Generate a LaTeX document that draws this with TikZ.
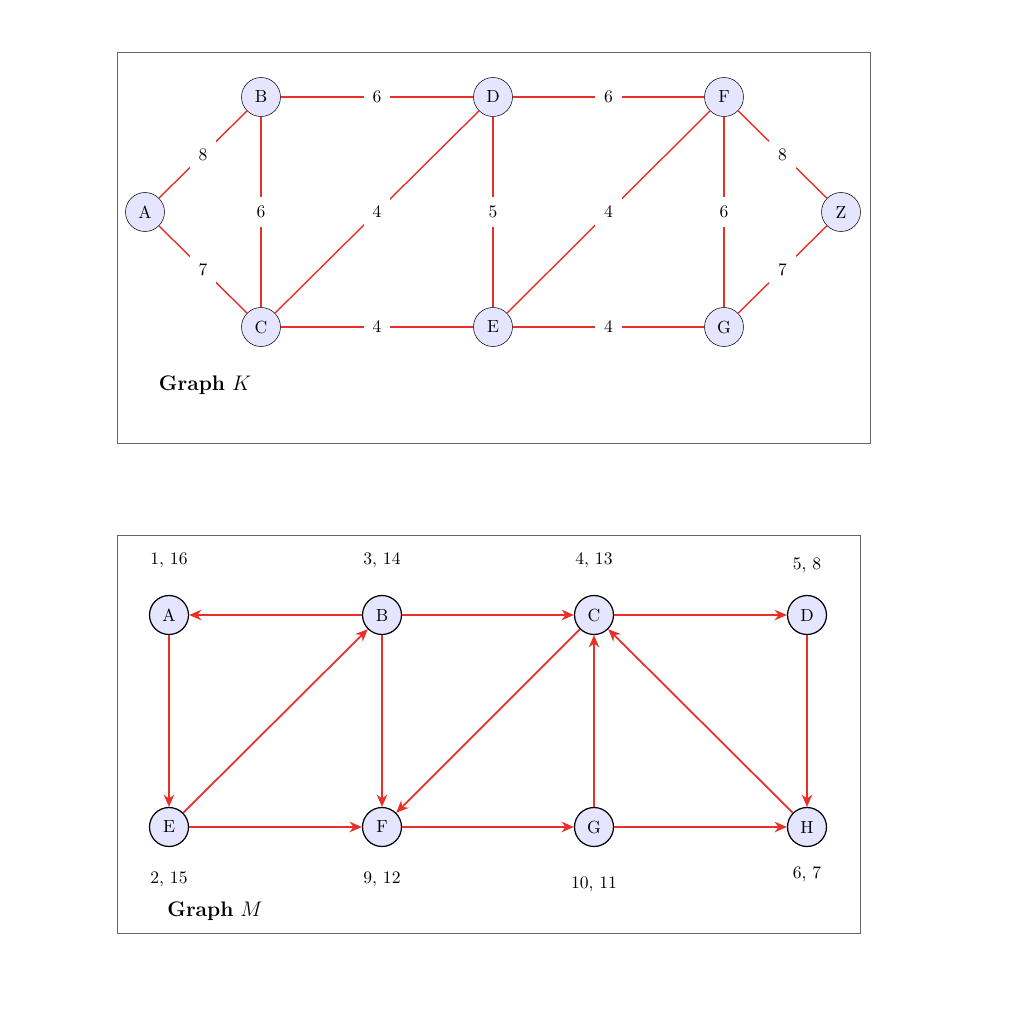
\documentclass[tikz,border=0pt]{standalone}
\usetikzlibrary{arrows.meta}
\definecolor{er}{RGB}{232,48,40}
\begin{document}
\begin{tikzpicture}[x=0.02cm,y=-0.02cm,
  vtx/.style={circle,draw,fill=blue!10,minimum size=0.78cm,inner sep=0pt},
  vtxk/.style={vtx,line width=0.3pt},
  vtxm/.style={vtx,line width=0.7pt},
  ek/.style={draw=er,line width=0.8pt},
  wl/.style={fill=white,inner sep=5pt},
  em/.style={draw=er,line width=1pt,-{Stealth[length=7pt,width=6pt]}},
  frame/.style={draw=black!60,line width=0.4pt}]
\useasboundingbox (0,0) rectangle (1008,1024);
\draw[frame] (117,52) rectangle (870,443);
\node[vtxk] (A) at (145,212) {A};
\node[vtxk] (B) at (261,97) {B};
\node[vtxk] (C) at (261,327) {C};
\node[vtxk] (D) at (493,97) {D};
\node[vtxk] (E) at (493,327) {E};
\node[vtxk] (F) at (724,97) {F};
\node[vtxk] (G) at (724,327) {G};
\node[vtxk] (Z) at (841,212) {Z};
\foreach \a/\b/\w in {A/B/8,A/C/7,B/D/6,B/C/6,C/D/4,C/E/4,D/E/5,D/F/6,E/F/4,E/G/4,F/G/6,F/Z/8,G/Z/7}
  \draw[ek] (\a) -- node[wl]{\w} (\b);
\node[font=\large] (gk) at (205,385) {\textbf{Graph} $K$};

\draw[frame] (117,535) rectangle (860,933);
\node[vtxm] (mA) at (169,615) {A};
\node[vtxm] (mB) at (382,615) {B};
\node[vtxm] (mC) at (594,615) {C};
\node[vtxm] (mD) at (807,615) {D};
\node[vtxm] (mE) at (169,827) {E};
\node[vtxm] (mF) at (382,827) {F};
\node[vtxm] (mG) at (594,827) {G};
\node[vtxm] (mH) at (807,827) {H};
\foreach \a/\b in {mB/mA,mB/mC,mC/mD,mA/mE,mE/mB,mB/mF,mC/mF,mE/mF,mF/mG,mG/mH,mG/mC,mH/mC,mD/mH}
  \draw[em] (\a) -- (\b);
\node (lA) at (169,560) {1, 16};
\node (lB) at (382,560) {3, 14};
\node (lC) at (594,560) {4, 13};
\node (lD) at (807,565) {5, 8};
\node (lE) at (169,879) {2, 15};
\node (lF) at (382,879) {9, 12};
\node (lG) at (594,884) {10, 11};
\node (lH) at (807,874) {6, 7};
\node[font=\large] (gm) at (215,911) {\textbf{Graph} $M$};
\end{tikzpicture}
\end{document}
